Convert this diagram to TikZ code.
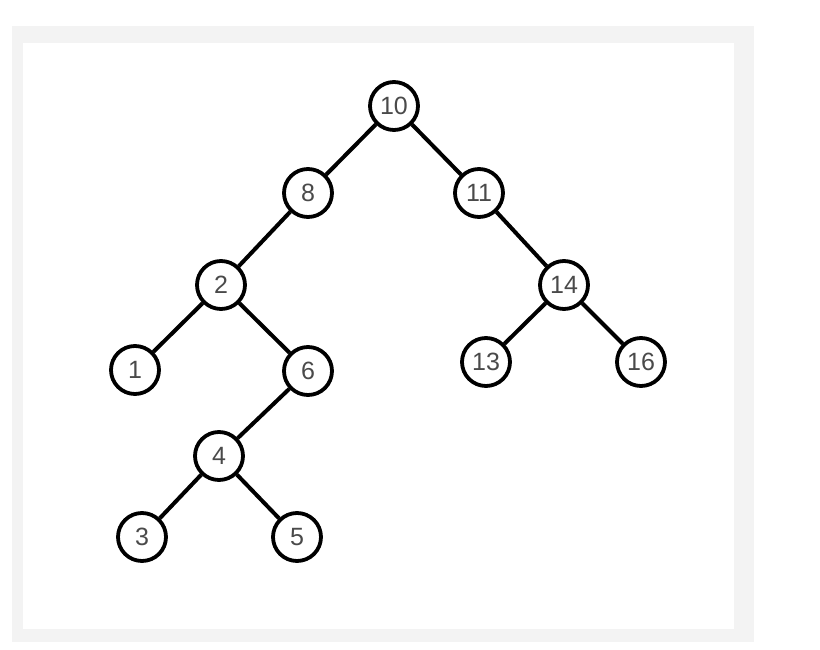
\documentclass[tikz,border=0pt]{standalone}
\usepackage{fontspec}
\setmainfont{Liberation Sans}
\definecolor{framegray}{HTML}{F3F3F3}
\definecolor{textgray}{HTML}{4A4A4A}
\begin{document}
\begin{tikzpicture}[x=1pt,y=-1pt,
  vtx/.style={circle,draw=black,line width=3.8pt,fill=white,minimum size=48pt,inner sep=0pt,
    font=\fontsize{25}{25}\selectfont,text=textgray},
  edge/.style={line width=4pt,draw=black}]
\useasboundingbox (0,0) rectangle (820,650);
\fill[white] (0,0) rectangle (820,650);
\fill[framegray] (12,26) rectangle (754,642);
\fill[white] (23,43) rectangle (734,629);
\node[vtx] (n10) at (394,106) {10};
\node[vtx] (n8) at (308,193) {8};
\node[vtx] (n11) at (479,193) {11};
\node[vtx] (n2) at (221,285) {2};
\node[vtx] (n14) at (564,285) {14};
\node[vtx] (n1) at (135,370) {1};
\node[vtx] (n6) at (308,371) {6};
\node[vtx] (n13) at (486,362) {13};
\node[vtx] (n16) at (641,362) {16};
\node[vtx] (n4) at (219,456) {4};
\node[vtx] (n3) at (142,537) {3};
\node[vtx] (n5) at (297,537) {5};
\draw[edge] (n10) -- (n8);
\draw[edge] (n10) -- (n11);
\draw[edge] (n8) -- (n2);
\draw[edge] (n11) -- (n14);
\draw[edge] (n2) -- (n1);
\draw[edge] (n2) -- (n6);
\draw[edge] (n14) -- (n13);
\draw[edge] (n14) -- (n16);
\draw[edge] (n6) -- (n4);
\draw[edge] (n4) -- (n3);
\draw[edge] (n4) -- (n5);
\end{tikzpicture}
\end{document}
